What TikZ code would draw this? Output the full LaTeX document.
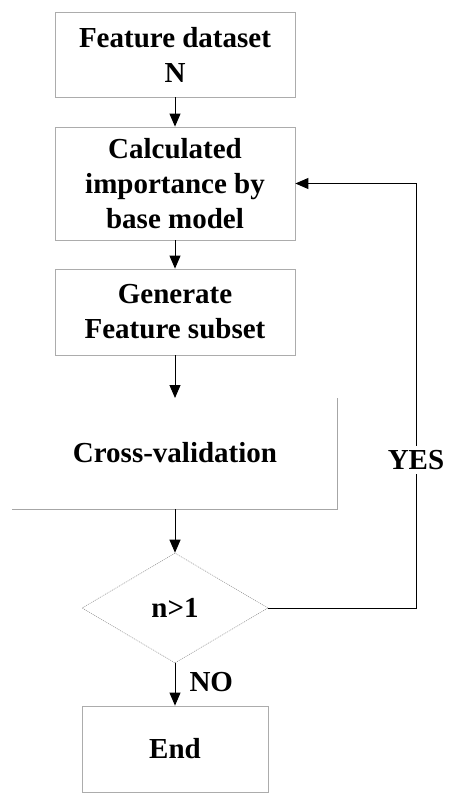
\documentclass[tikz,border=0pt]{standalone}
\usepackage{fontspec}
\setmainfont{Liberation Serif}
\usetikzlibrary{arrows.meta,shapes.geometric}
\newcommand{\flowfont}{\fontsize{29}{35}\selectfont\bfseries}
\tikzset{
  stepbox/.style={draw=gray!65, line width=0.8pt, minimum width=240pt, inner sep=0pt, align=center, font=\flowfont},
  flow/.style={line width=1pt, -{Triangle[length=13pt,width=11pt]}},
  tag/.style={font=\flowfont, inner sep=1pt}
}

\begin{document}
\begin{tikzpicture}[x=1pt, y=-1pt]
	  \useasboundingbox (0, 0) rectangle (452, 804);
	  % 方框
	  \node[stepbox, minimum height=85pt] (data) at (175, 54.5) {Feature dataset\\N};
	  \node[stepbox, minimum height=113pt] (imp) at (175, 183.5) {Calculated\\importance by\\base model};
	  \node[stepbox, minimum height=86pt] (gen) at (175, 312) {Generate\\Feature subset};
	  \node[tag] (cv) at (175, 453) {Cross-validation};
	  \draw[gray!70, line width=0.8pt] (12, 509) -- (337, 509) -- (337, 398);
	  \coordinate (cvtop) at (175, 398);
	  \coordinate (cvbot) at (175, 509);
	  % 判断
	  \node[diamond, draw=gray!80, line width=0.6pt, dash pattern=on 1pt off 1pt, minimum width=186pt, minimum height=110pt, inner sep=0pt, font=\flowfont] (cond) at (175, 608) {n>1};
	  \node[stepbox, minimum width=186pt, minimum height=86pt] (end) at (175, 749) {End};
	  % 箭头
	  \draw[flow] (data) -- (imp);
	  \draw[flow] (imp) -- (gen);
	  \draw[flow] (gen) -- (cvtop);
	  \draw[flow] (cvbot) -- (cond.north);
	  \draw[flow] (cond.south) -- (end) node[tag, pos=0.45, right=13pt] (no) {NO};
	  \coordinate (loop) at (416, 608);
	  \draw[flow] (cond.east) -- (loop) -- (loop |- imp) -- (imp.east);
	  \node[tag, fill=white, inner sep=4pt] (yes) at (416, 460) {YES};
	\end{tikzpicture}
\end{document}
